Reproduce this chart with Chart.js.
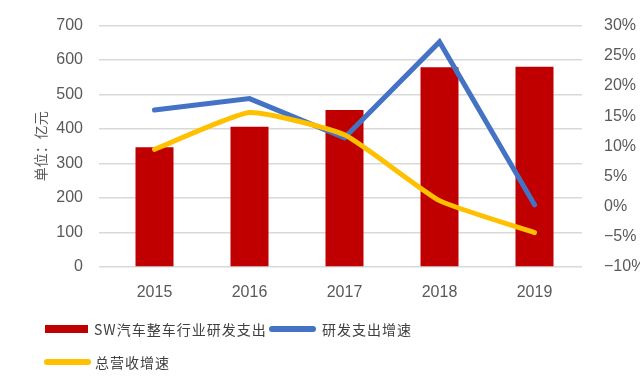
<!DOCTYPE html>
<html><head><meta charset="utf-8">
<script src="https://cdn.jsdelivr.net/npm/chart.js@4/dist/chart.umd.min.js"></script>
<style>
html,body{margin:0;padding:0;background:#fff;}
#wrap{position:relative;width:640px;height:379px;}
canvas{position:absolute;left:0;top:0;}
.lg{position:absolute;font-family:"Noto Sans CJK SC","Noto Sans",sans-serif;font-size:14px;color:#404040;letter-spacing:1px;line-height:18px;white-space:nowrap;}
.sw{position:absolute;}
</style></head>
<body><div id="wrap"><canvas id="c" width="640" height="379"></canvas>
<div class="sw" style="left:45px;top:325px;width:43px;height:8px;background:#C00000"></div>
<div class="lg" style="left:94px;top:320px">SW汽车整车行业研发支出</div>
<div class="sw" style="left:269px;top:326px;width:47px;height:6px;border-radius:3px;background:#4472C4"></div>
<div class="lg" style="left:322px;top:320px">研发支出增速</div>
<div class="sw" style="left:44px;top:359px;width:47px;height:6px;border-radius:3px;background:#FFC000"></div>
<div class="lg" style="left:95px;top:353px">总营收增速</div>
</div>
<script>
const categories = ['2015','2016','2017','2018','2019'];
const rdSpend = [347, 407, 455, 579, 581];
const rdGrowth = [16.0, 17.9, 11.4, 27.3, 0.3];
const revGrowth = [9.5, 15.6, 11.9, 1.0, -4.3];
const leftTicks = [0,100,200,300,400,500,600,700];
const rightTicks = [-10,-5,0,5,10,15,20,25,30];

const tickFont = {family:'"Liberation Sans", Arial, sans-serif', size:16};
new Chart(document.getElementById('c'), {
  data: {
    labels: categories,
    datasets: [
      {type:'line', label:'总营收增速', data: revGrowth, yAxisID:'y1', borderColor:'#FFC000', borderWidth:5, pointRadius:0, tension:0.15, order:0, borderCapStyle:'round'},
      {type:'line', label:'研发支出增速', data: rdGrowth, yAxisID:'y1', borderColor:'#4472C4', borderWidth:5, pointRadius:0, tension:0, order:1, borderCapStyle:'round'},
      {type:'bar', label:'SW汽车整车行业研发支出', data: rdSpend, yAxisID:'y', backgroundColor:'#C00000', barPercentage:0.4, categoryPercentage:1, order:2}
    ]
  },
  options: {
    responsive:false, animation:false,
    layout:{padding:{top:23,bottom:72,left:32,right:0}},
    plugins:{legend:{display:false}, tooltip:{enabled:false}},
    scales:{
      x:{grid:{display:false}, border:{display:false}, ticks:{color:'#595959', font:tickFont, padding:8},
         afterFit:s=>{s.height=40;}},
      y:{position:'left', min:0, max:700, grid:{color:'#D9D9D9', lineWidth:1.5}, border:{display:false},
         afterBuildTicks:s=>{s.ticks=leftTicks.map(v=>({value:v}));},
         ticks:{color:'#595959', font:tickFont, padding:16},
         title:{display:true, text:'单位：亿元', color:'#595959', font:{family:'"Noto Sans CJK SC",sans-serif', size:14}, padding:0},
         afterFit:s=>{s.width=75;}},
      y1:{position:'right', min:-10, max:30, grid:{display:false}, border:{display:false},
         afterBuildTicks:s=>{s.ticks=rightTicks.map(v=>({value:v}));},
         ticks:{color:'#595959', font:tickFont, padding:14, callback:v=>(v<0?'\u2212'+(-v):v)+'%'},
         afterFit:s=>{s.width=58;}}
    }
  }
});
</script></body></html>
